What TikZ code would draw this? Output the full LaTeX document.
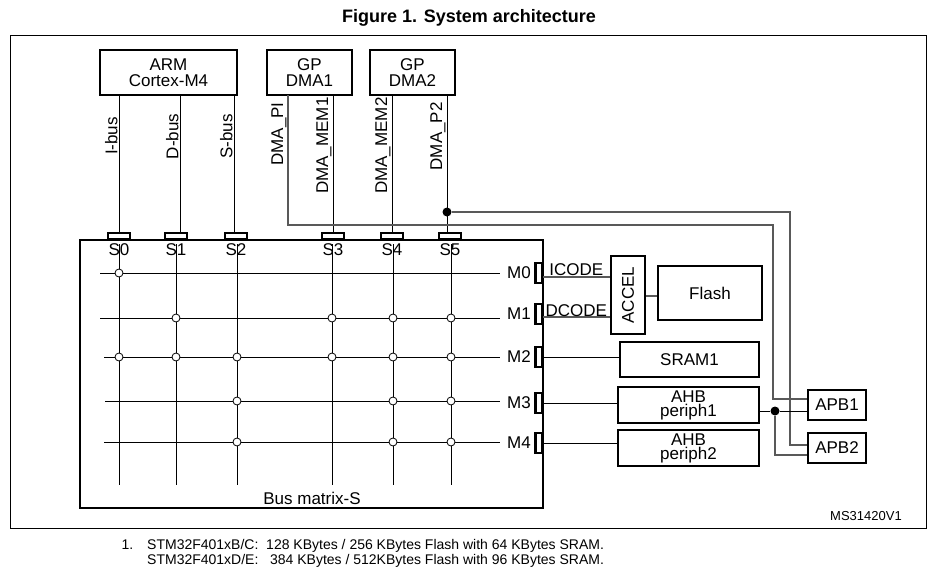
\documentclass[tikz,border=0pt]{standalone}
\usepackage{fontspec}
\setmainfont{Liberation Sans}
\begin{document}
\begin{tikzpicture}[x=1pt,y=-1pt,
 box/.style={draw,line width=2.6pt,inner sep=0pt,align=center,font=\fontsize{17}{16}\selectfont},
 lbl/.style={font=\fontsize{17}{18}\selectfont,inner sep=1pt},
 port/.style={draw,line width=2.2pt,fill=white},
 thin/.style={line width=1pt},
 grey/.style={line width=1.1pt,draw=black!65},
 jn/.style={circle,draw,fill=white,line width=0.8pt,inner sep=0pt,minimum size=8pt},
 dot/.style={circle,fill=black,inner sep=0pt,minimum size=9pt}]
\useasboundingbox (0,0) rectangle (938,570);
\node[font=\bfseries\fontsize{18}{18}\selectfont] (title) at (469,18) {Figure 1. System architecture};
\draw[line width=1pt] (10,35) rectangle (926,528);
% top masters
\node[box,minimum width=137pt,minimum height=45pt] (arm) at (168.5,72.5) {ARM\\Cortex-M4};
\node[box,minimum width=85pt,minimum height=45pt] (dma1) at (309.5,72.5) {GP\\DMA1};
\node[box,minimum width=85pt,minimum height=45pt] (dma2) at (412.5,72.5) {GP\\DMA2};
% bus matrix
\draw[line width=2.8pt] (80,240) rectangle (543,508);
\node[lbl] (bml) at (312,498) {Bus matrix-S};
% grid
\foreach \x in {119,176,237,332,393,451} \draw[thin] (\x,244) -- (\x,485);
\foreach \y/\a in {273/100,318/100,357/104,401/105,442/104} \draw[thin] (\a,\y) -- (500,\y);
% slave ports
\foreach \x/\n/\l in {119/s0/S0,176/s1/S1,236/s2/S2,333/s3/S3,392/s4/S4,450/s5/S5}{
 \node[port,minimum width=22pt,minimum height=6pt,inner sep=0pt] (\n) at (\x,236) {};
 \node[lbl] at (\x,250) {\l};}
% master ports
\foreach \y/\n/\l in {273/m0/M0,314/m1/M1,357/m2/M2,403/m3/M3,443/m4/M4}{
 \node[port,minimum width=7pt,minimum height=20pt,inner sep=0pt] (\n) at (539,\y) {};
 \node[lbl,anchor=east] at (532,\y) {\l};}
% junctions
\foreach \x/\y in {119/273, 176/318,332/318,393/318,451/318,119/357,176/357,237/357,332/357,393/357,451/357,237/401,393/401,451/401,237/442,393/442,451/442}
 \node[jn] at (\x,\y) {};
% buses from masters
\draw[thin] (119,95) -- node[lbl,pos=0.3,rotate=90,anchor=south] {I-bus} (s0.north);
\draw[thin] (180,95) -- node[lbl,pos=0.3,rotate=90,anchor=south] {D-bus} (180,233);
\draw[thin] (234,95) -- node[lbl,pos=0.3,rotate=90,anchor=south] {S-bus} (234,233);
\draw[thin] (333,95) -- node[lbl,pos=0.37,rotate=90,anchor=south] {DMA\_MEM1} (s3.north);
\draw[thin] (392,95) -- node[lbl,pos=0.37,rotate=90,anchor=south] {DMA\_MEM2} (s4.north);
\draw[thin] (447,95) -- node[lbl,pos=0.3,rotate=90,anchor=south] {DMA\_P2} (447,233);
\draw[grey] (288,95) -- node[lbl,pos=0.3,rotate=90,anchor=south,text=black] {DMA\_PI} (288,225) -- (773,225) -- (773,399) -- (808,399);
\node[dot] (d1) at (447,212) {};
\draw[grey] (d1) -- (790,212) -- (790,445) -- (808,445);
% slaves
\node[box,minimum width=34pt,minimum height=78pt] (accel) at (628,295) {\rotatebox{90}{ACCEL}};
\node[box,minimum width=104pt,minimum height=54pt] (flash) at (710,293) {Flash};
\node[box,minimum width=139pt,minimum height=35pt] (sram) at (689.5,359.5) {SRAM1};
\node[box,minimum width=141pt,minimum height=36pt,font=\fontsize{17}{14}\selectfont] (ahb1) at (688.5,405) {AHB\\periph1};
\node[box,minimum width=141pt,minimum height=36pt,font=\fontsize{17}{14}\selectfont] (ahb2) at (688.5,448) {AHB\\periph2};
\node[box,minimum width=58pt,minimum height=30pt] (apb1) at (837,405) {APB1};
\node[box,minimum width=58pt,minimum height=30pt] (apb2) at (837,448) {APB2};
\draw[grey] (543,277) -- node[lbl,above,text=black,inner sep=1pt] {ICODE} (accel.west |- 0,277);
\draw[grey] (543,317) -- node[lbl,above,text=black,inner sep=0pt] {DCODE} (accel.west |- 0,317);
\draw[grey] (accel.east |- 0,296) -- (flash.west |- 0,296);
\draw[thin] (m2.east) -- (sram.west |- m2.east);
\draw[thin] (m3.east) -- (ahb1.west |- m3.east);
\draw[thin] (m4.east) -- (ahb2.west |- m4.east);
\node[dot] (d2) at (775,411) {};
\draw[thin] (ahb1.east |- d2) -- (d2) -- (apb1.west |- d2);
\draw[grey] (d2) -- (775,455) -- (apb2.west |- 0,455);
\node[font=\fontsize{13}{13}\selectfont] (ms) at (866,516) {MS31420V1};
\node[font=\fontsize{14}{15}\selectfont,anchor=north west,align=left] (fn) at (118,536)
 {1.\quad STM32F401xB/C:\ \ 128 KBytes / 256 KBytes Flash with 64 KBytes SRAM.\\
 \phantom{1.}\quad STM32F401xD/E:\ \ \ 384 KBytes / 512KBytes Flash with 96 KBytes SRAM.};
\end{tikzpicture}
\end{document}
